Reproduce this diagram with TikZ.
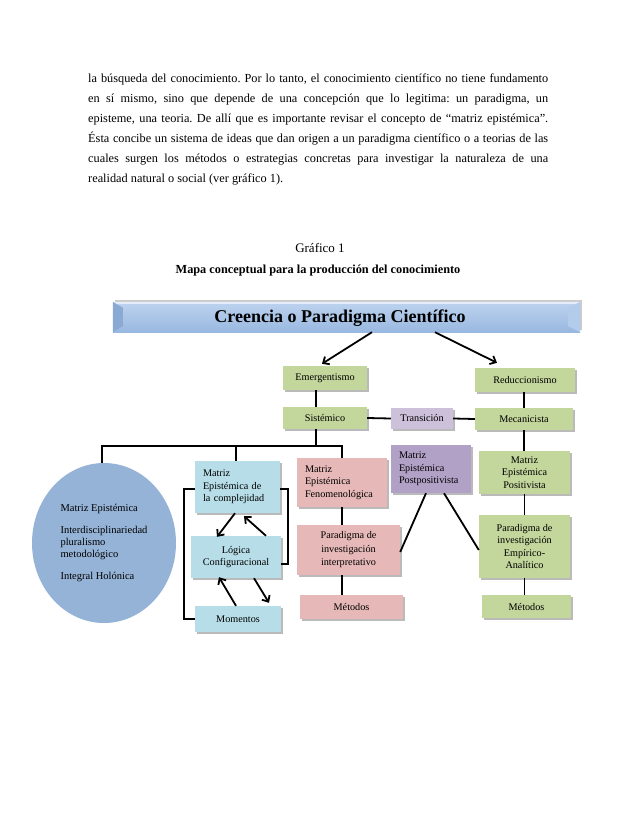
\documentclass[tikz,border=0pt]{standalone}
\usepackage{fontspec}
\setmainfont{Liberation Serif}
\usetikzlibrary{shapes.geometric,shadows,arrows.meta,calc}
\definecolor{gfill}{HTML}{C3D69B}
\definecolor{pfill}{HTML}{E6B9B8}
\definecolor{bfill}{HTML}{B7DEE8}
\definecolor{vlfill}{HTML}{CCC0DA}
\definecolor{vfill}{HTML}{B2A1C7}
\definecolor{cfill}{HTML}{95B3D7}
\definecolor{bantop}{HTML}{BDD3EF}
\definecolor{banbot}{HTML}{99B8E0}
\definecolor{bandark}{HTML}{8AA9D3}
\definecolor{banlight}{HTML}{B3CCEB}
\frenchspacing
\begin{document}
\begin{tikzpicture}[x=1pt,y=-1pt,
  body/.style={anchor=base west,inner sep=0,font=\fontsize{12.3}{20}\selectfont},
  boxb/.style={rectangle,inner sep=0,align=center,font=\fontsize{10.2}{12.5}\selectfont,
    drop shadow={shadow xshift=2pt,shadow yshift=-2pt,fill=black!45,opacity=0.6}},
  gbox/.style={boxb,fill=gfill},
  pbox/.style={boxb,fill=pfill},
  bbox/.style={boxb,fill=bfill},
  vlbox/.style={boxb,fill=vlfill},
  vbox/.style={boxb,fill=vfill},
  lbox/.style={align=left,inner xsep=8pt},
  conn/.style={line width=1.8pt},
  arr/.style={line width=1.8pt,-{Straight Barb[length=5pt,width=9pt]}}
]
\useasboundingbox (0,0) rectangle (638,826);
\fill[white] (0,0) rectangle (638,826);

% body text
\node[body] (l1) at (88,83) {\makebox[460pt][s]{la búsqueda del conocimiento. Por lo tanto, el conocimiento científico no tiene fundamento}};
\node[body] (l2) at (88,103) {\makebox[460pt][s]{en sí mismo, sino que depende de una concepción que lo legitima: un paradigma, un}};
\node[body] (l3) at (88,123) {\makebox[460pt][s]{episteme, una teoria. De allí que es importante revisar el concepto de “matriz epistémica”.}};
\node[body] (l4) at (88,143) {\makebox[460pt][s]{Ésta concibe un sistema de ideas que dan origen a un paradigma científico o a teorias de las}};
\node[body] (l5) at (88,163) {\makebox[460pt][s]{cuales surgen los métodos o estrategias concretas para investigar la naturaleza de una}};
\node[body] (l6) at (88,183) {realidad natural o social (ver gráfico 1).};

\node[font=\fontsize{13}{15}\selectfont] (g1) at (320,248) {Gráfico 1};
\node[font=\fontsize{12.3}{15}\selectfont\bfseries] (g2) at (318,271) {Mapa conceptual para la producción del conocimiento};

% banner
\node[rectangle,minimum width=467,minimum height=30,inner sep=0,top color=bantop,bottom color=banbot,
  drop shadow={shadow xshift=2pt,shadow yshift=2pt,fill=black!40,opacity=0.5}] (ban) at (346.5,317) {};
\fill[white!60!bantop] (ban.north west) -- (ban.north east) -- ++(-2,2) -- ($(ban.north west)+(2,2)$) -- cycle;
\fill[bandark] (ban.north west) -- ++(10,6) -- ($(ban.south west)+(10,-6)$) -- (ban.south west) -- cycle;
\fill[banlight] (ban.north east) -- ++(-12,6) -- ($(ban.south east)+(-12,-6)$) -- (ban.south east) -- cycle;
\node[font=\fontsize{18}{20}\selectfont\bfseries] (bantext) at (340,318) {Creencia o Paradigma Científico};

% top level
\node[gbox,minimum width=84,minimum height=24] (emer) at (325,378) {Emergentismo};
\node[gbox,minimum width=100,minimum height=24] (reduc) at (525,380) {Reduccionismo};
\node[gbox,minimum width=84,minimum height=22] (sist) at (325,418) {Sistémico};
\node[vlbox,minimum width=62,minimum height=21] (trans) at (422,418.5) {Transición};
\node[gbox,minimum width=98,minimum height=22] (meca) at (524,419) {Mecanicista};

% circle
\node[ellipse,fill=cfill,minimum width=144,minimum height=160,inner sep=0,align=left,
  font=\fontsize{10.5}{12}\selectfont] (circ) at (104,543)
  {Matriz Epistémica\\[10pt]Interdisciplinariedad\\pluralismo\\metodológico\\[10pt]Integral Holónica};

% complexity column
\node[bbox,lbox,minimum width=85,minimum height=52,text width=69] (comp) at (237.5,487) {Matriz\\Epistémica de\\la complejidad};
\node[bbox,minimum width=90,minimum height=42] (logica) at (236,557) {Lógica\\Configuracional};
\node[bbox,minimum width=86,minimum height=26] (mom) at (238,619) {Momentos};

% phenomenological column
\node[pbox,lbox,minimum width=90,minimum height=49,text width=74] (fenom) at (342,482.5) {Matriz\\Epistémica\\Fenomenológica};
\node[pbox,minimum width=103,minimum height=50,font=\fontsize{10.2}{13.5}\selectfont] (pint) at (348.5,550) {Paradigma de\\investigación\\interpretativo};
\node[pbox,minimum width=103,minimum height=24] (metp) at (351.5,607) {Métodos};

% postpositivist
\node[vbox,lbox,minimum width=80,minimum height=48,text width=64] (postp) at (431,469) {Matriz\\Epistémica\\Postpositivista};

% positivist column
\node[gbox,minimum width=91,minimum height=43] (posit) at (524.5,472.5) {Matriz\\Epistémica\\Positivista};
\node[gbox,minimum width=91,minimum height=63] (pemp) at (524.5,546.5) {Paradigma de\\investigación\\Empírico-\\Analítico};
\node[gbox,minimum width=89,minimum height=23] (metg) at (526.5,606.5) {Métodos};

% connectors
\draw[arr] ([xshift=25.5]ban.south) -- ([xshift=-3,yshift=2]emer.north);
\draw[arr] ([xshift=88.5]ban.south) -- ([xshift=-28,yshift=5]reduc.north);
\draw[conn] ([xshift=-9]emer.south) -- ([xshift=-9]sist.north);
\draw[conn] ([xshift=-1]reduc.south) -- (meca.north);
\draw[conn] (sist.east) -- (trans.west);
\draw[conn] (trans.east) -- (meca.west);

\coordinate (j) at (316,446);
\draw[conn] ([xshift=-9]sist.south) -- (j);
\draw[conn] ([xshift=-2]circ.north) |- (fenom.north |- j) -- (fenom.north);
\draw[conn] ([xshift=-1.5]comp.north) -- ([xshift=-1.5]comp.north |- j);
\draw[conn] (meca.south) -- (meca.south |- posit.north);

% complexity arrows
\draw[arr] ([xshift=-2.5]comp.south) -- ([xshift=-19,yshift=-1]logica.north);
\draw[arr] ([xshift=30]logica.north) -- ([xshift=6.5,yshift=-3]comp.south);
\draw[arr] ([xshift=-2]mom.north) -- ([xshift=-17,yshift=1]logica.south);
\draw[arr] ([xshift=18]logica.south) -- ([xshift=31,yshift=3]mom.north);
% brackets
\draw[conn] ([yshift=-2]comp.west) -- ++(-11,0) |- (mom.west);
\draw[conn] ([yshift=-2]comp.east) -- ++(8,0) |- ([yshift=-7]logica.east);

% phenomenological links
\draw[conn] (fenom.south) -- (fenom.south |- pint.north);
\draw[conn] (fenom.south |- pint.south) -- (fenom.south |- metp.north);

% postpositivist links
\draw[conn] ([xshift=-5]postp.south) -- ([yshift=-2]pint.east);
\draw[conn] ([xshift=13]postp.south) -- ([yshift=-3.5]pemp.west);

% positivist links
\draw[conn] (posit.south) -- (pemp.north);
\draw[conn] (pemp.south) -- (pemp.south |- metg.north);
\end{tikzpicture}
\end{document}
